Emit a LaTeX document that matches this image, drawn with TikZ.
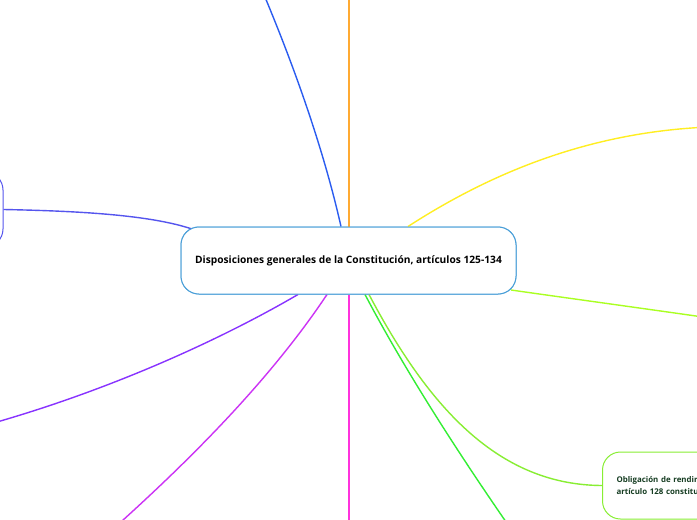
\documentclass[tikz,border=0pt]{standalone}
\usepackage{fontspec}
\setmainfont{Open Sans}
\definecolor{cBlue}{HTML}{2A5CF0}
\definecolor{cOrange}{HTML}{FFAA33}
\definecolor{cYellow}{HTML}{FFEE22}
\definecolor{cYgreen}{HTML}{AAFF22}
\definecolor{cLgreen}{HTML}{88EE33}
\definecolor{cGreen}{HTML}{33EE33}
\definecolor{cMagenta}{HTML}{FF33DD}
\definecolor{cPurple}{HTML}{CC33F5}
\definecolor{cViolet}{HTML}{8833FF}
\definecolor{cBviolet}{HTML}{5555EE}
\definecolor{cBorder}{HTML}{4A9FD8}
\definecolor{cText}{HTML}{163D22}
\tikzset{
  conn/.style={line width=1.4pt},
  topicbox/.style={draw, rounded corners=18pt, fill=white, line width=1pt, inner sep=0pt},
  roottext/.style={font=\bfseries\fontsize{10.2}{12}\selectfont},
}
\begin{document}
\begin{tikzpicture}[x=1pt,y=-1pt]
\useasboundingbox (0,0) rectangle (697,520);
\clip (0,0) rectangle (697,520);
\fill[white] (0,0) rectangle (697,520);
% free ends
\coordinate (tBlue) at (262,-10);
\coordinate (tOrange) at (349,-10);
\coordinate (tYellow) at (710,127);
\coordinate (tYgreen) at (710,318);
\coordinate (tGreen) at (513,532);
\coordinate (tMagenta) at (349,530);
\coordinate (tPurple) at (112,530);
\coordinate (tViolet) at (-10,424);
% nodes
\node[topicbox, draw=cBorder, minimum width=335pt, minimum height=67pt, roottext] (root) at (348.5,260.5)
  {Disposiciones generales de la Constitución, artículos 125-134};
\node[topicbox, draw=cBviolet, minimum width=130pt, minimum height=75pt] (left) at (-62,209.5) {};
\node[topicbox, draw=cLgreen, minimum width=160pt, minimum height=67pt, anchor=west,
      align=left, text=cText, font=\bfseries\fontsize{7.9}{12}\selectfont,
      text width=146pt, inner xsep=14pt] (oblig) at (602,485.5)
  {Obligación de rendir\\artículo 128 constitu};
% connectors
\draw[conn, cBlue] (root.north -| 341,0) .. controls (326,160) and (300,80) .. (tBlue);
\draw[conn, cOrange] (root.north -| 349,0) -- (tOrange);
\draw[conn, cYellow] (root.north -| 408,0) .. controls (480,180) and (580,132) .. (tYellow);
\draw[conn, cYgreen] (511,290) .. controls (560,297) and (640,308) .. (tYgreen);
\draw[conn, cLgreen] (root.south -| 369,0) .. controls (430,410) and (500,485) .. (oblig.west);
\draw[conn, cGreen] (root.south -| 365,0) .. controls (410,380) and (470,470) .. (tGreen);
\draw[conn, cMagenta] (root.south -| 349,0) -- (tMagenta);
\draw[conn, cPurple] (root.south -| 327,0) .. controls (270,380) and (190,460) .. (tPurple);
\draw[conn, cViolet] (root.south -| 298,0) .. controls (220,340) and (110,390) .. (tViolet);
\draw[conn, cBviolet] (192,229) .. controls (150,215) and (80,211) .. (left.east);
% redraw root box on top of connector ends
\node[topicbox, draw=cBorder, minimum width=335pt, minimum height=67pt, roottext] at (348.5,260.5)
  {Disposiciones generales de la Constitución, artículos 125-134};
\end{tikzpicture}
\end{document}
